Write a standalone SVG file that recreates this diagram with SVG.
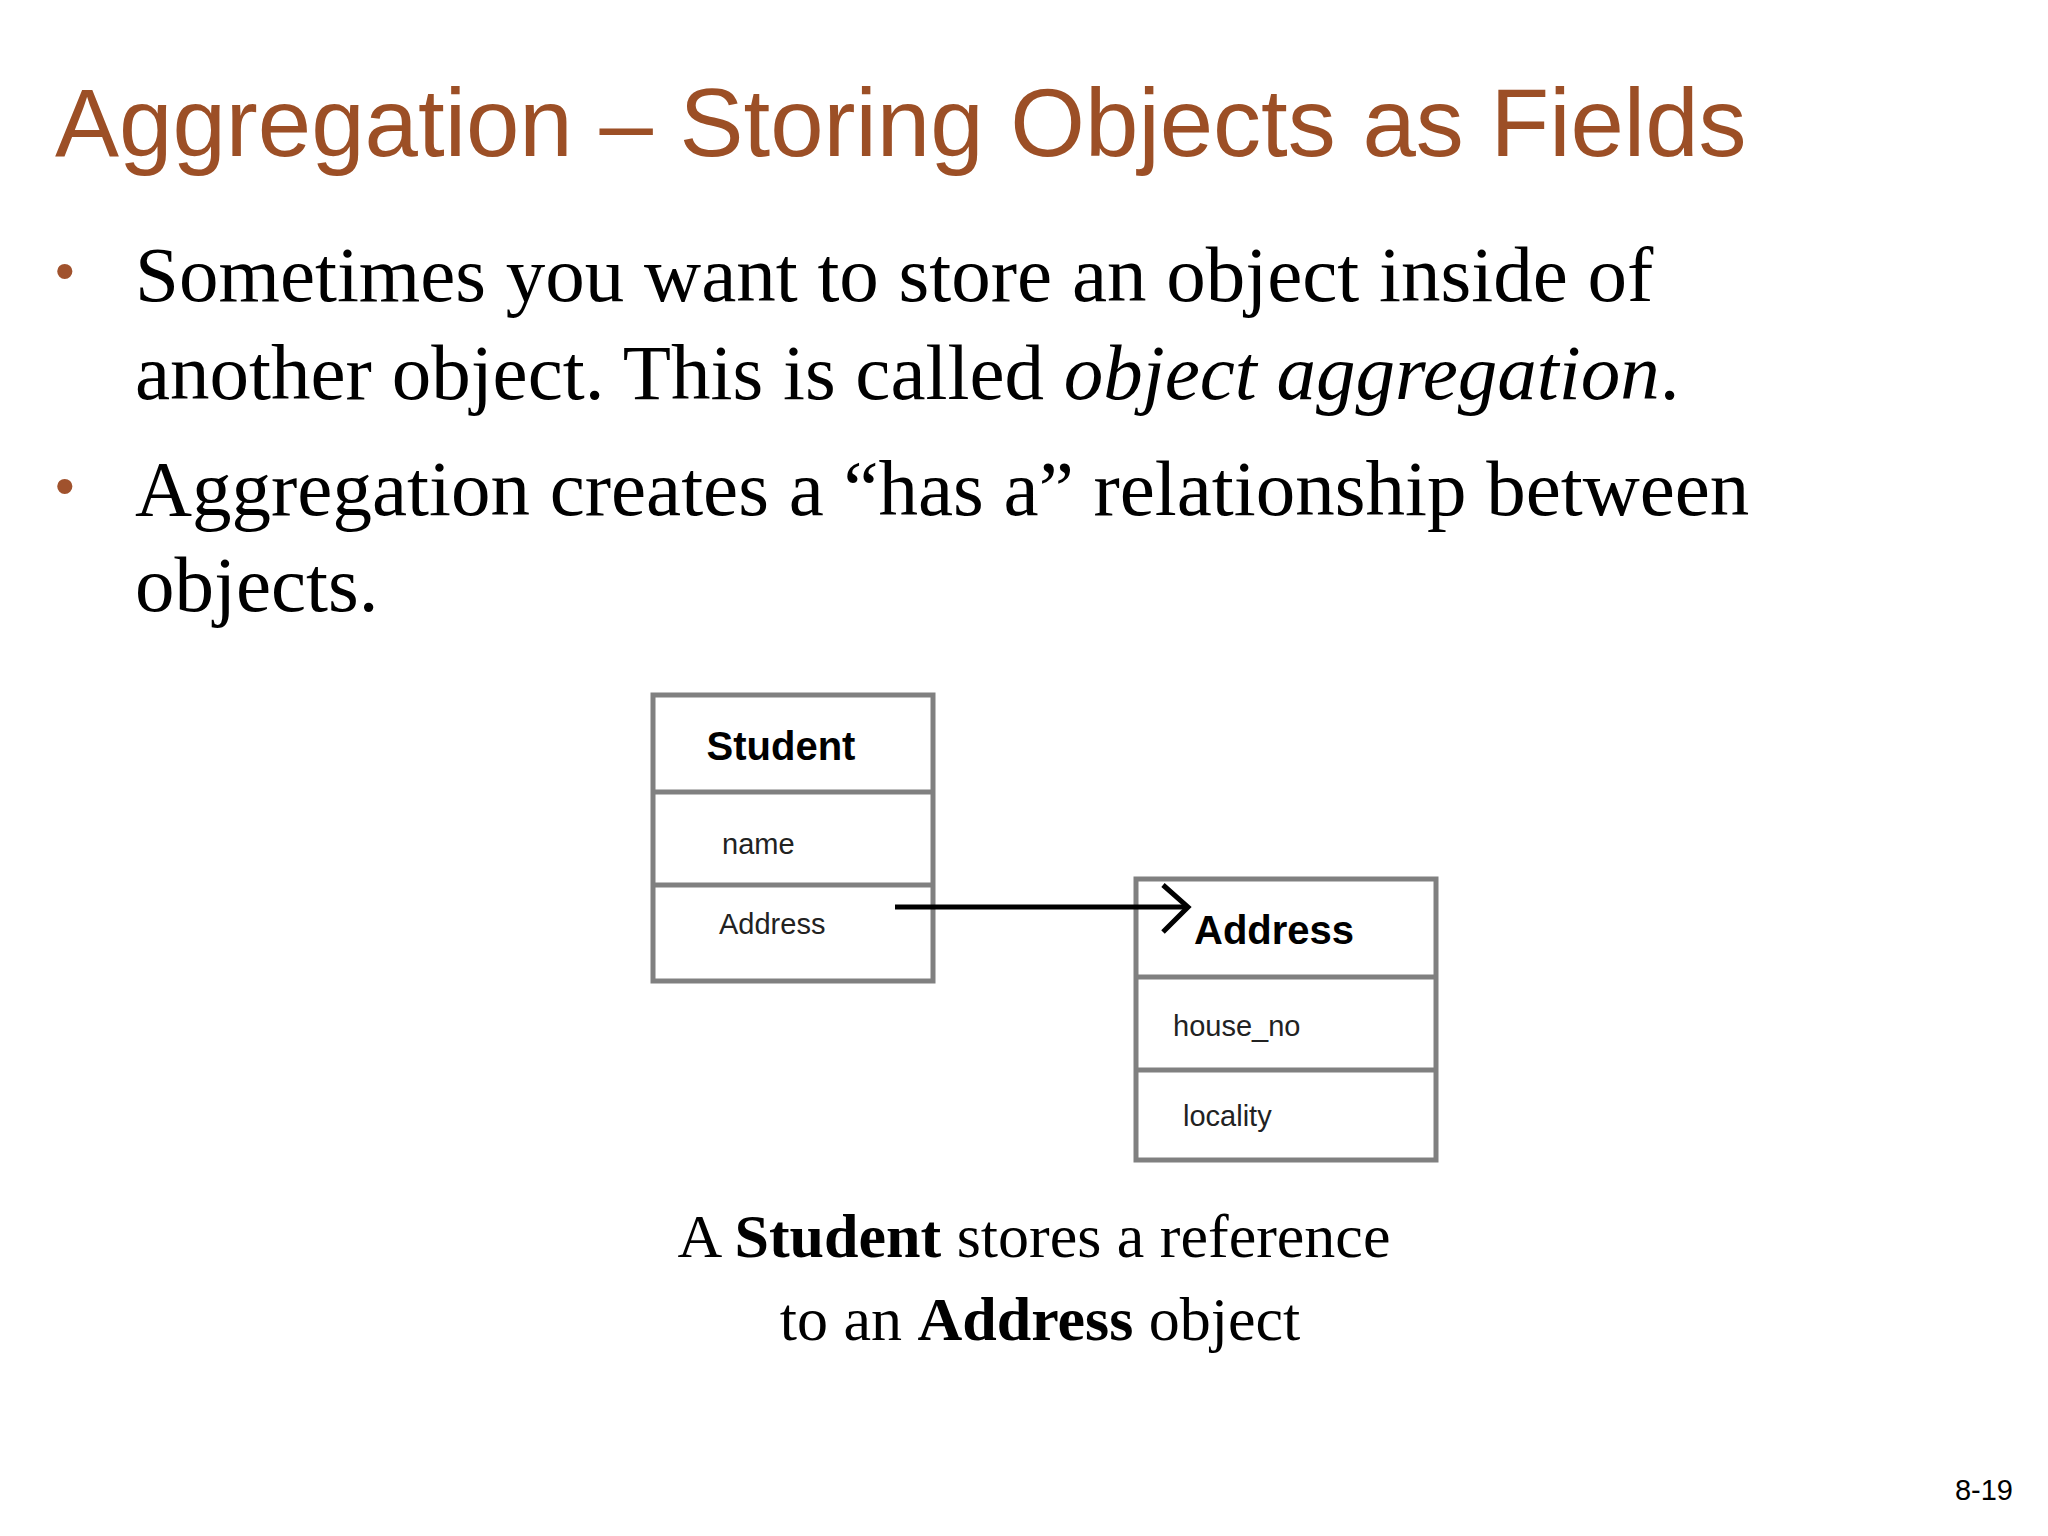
<svg xmlns="http://www.w3.org/2000/svg" width="2048" height="1536" viewBox="0 0 2048 1536">
<style>
.t{font-family:"Liberation Sans",Arial,sans-serif;fill:#9C4F26}
.b{font-family:"Liberation Serif","Times New Roman",serif;fill:#000;font-size:79px}
.dot{font-family:"Liberation Sans",Arial,sans-serif;fill:#A0522D;font-size:56px}
.box{fill:#fff;stroke:#808080;stroke-width:5}
.div{stroke:#808080;stroke-width:5}
.h{font-family:"Liberation Sans",Arial,sans-serif;font-weight:bold;font-size:40px;fill:#000}
.a{font-family:"Liberation Sans",Arial,sans-serif;font-size:29px;fill:#222}
.c{font-family:"Liberation Serif","Times New Roman",serif;font-size:62px;fill:#000}
</style>
<rect width="2048" height="1536" fill="#fff"/>
<text class="t" x="55" y="156" font-size="96">Aggregation – Storing Objects as Fields</text>
<text class="dot" x="55" y="290">•</text>
<text class="b" x="135" y="301">Sometimes you want to store an object inside of</text>
<text class="b" x="135" y="399">another object. This is called <tspan font-style="italic">object aggregation</tspan>.</text>
<text class="dot" x="55" y="505">•</text>
<text class="b" x="135" y="515">Aggregation creates a “has a” relationship between</text>
<text class="b" x="135" y="611">objects.</text>
<g id="student">
<rect class="box" x="653" y="695" width="280" height="286"/>
<line class="div" x1="653" y1="792" x2="933" y2="792"/>
<line class="div" x1="653" y1="885" x2="933" y2="885"/>
<text class="h" x="781" y="760" text-anchor="middle">Student</text>
<text class="a" x="722" y="854">name</text>
<text class="a" x="719" y="934">Address</text>
</g>
<g id="address">
<rect class="box" x="1136" y="879" width="300" height="281"/>
<line class="div" x1="1136" y1="977" x2="1436" y2="977"/>
<line class="div" x1="1136" y1="1070" x2="1436" y2="1070"/>
<text class="h" x="1194" y="944">Address</text>
<text class="a" x="1173" y="1036">house_no</text>
<text class="a" x="1183" y="1126">locality</text>
</g>
<g id="connectors" fill="none" stroke="#000" stroke-width="5">
<line x1="895" y1="907" x2="1186" y2="907"/>
<polyline points="1163,885 1188,907 1163,932"/>
</g>
<text class="c" x="1034" y="1257" text-anchor="middle">A <tspan font-weight="bold">Student</tspan> stores a reference</text>
<text class="c" x="1040" y="1340" text-anchor="middle">to an <tspan font-weight="bold">Address</tspan> object</text>
<text x="2013" y="1500" text-anchor="end" font-family="Liberation Sans,Arial,sans-serif" font-size="29" fill="#000">8-19</text>
</svg>
